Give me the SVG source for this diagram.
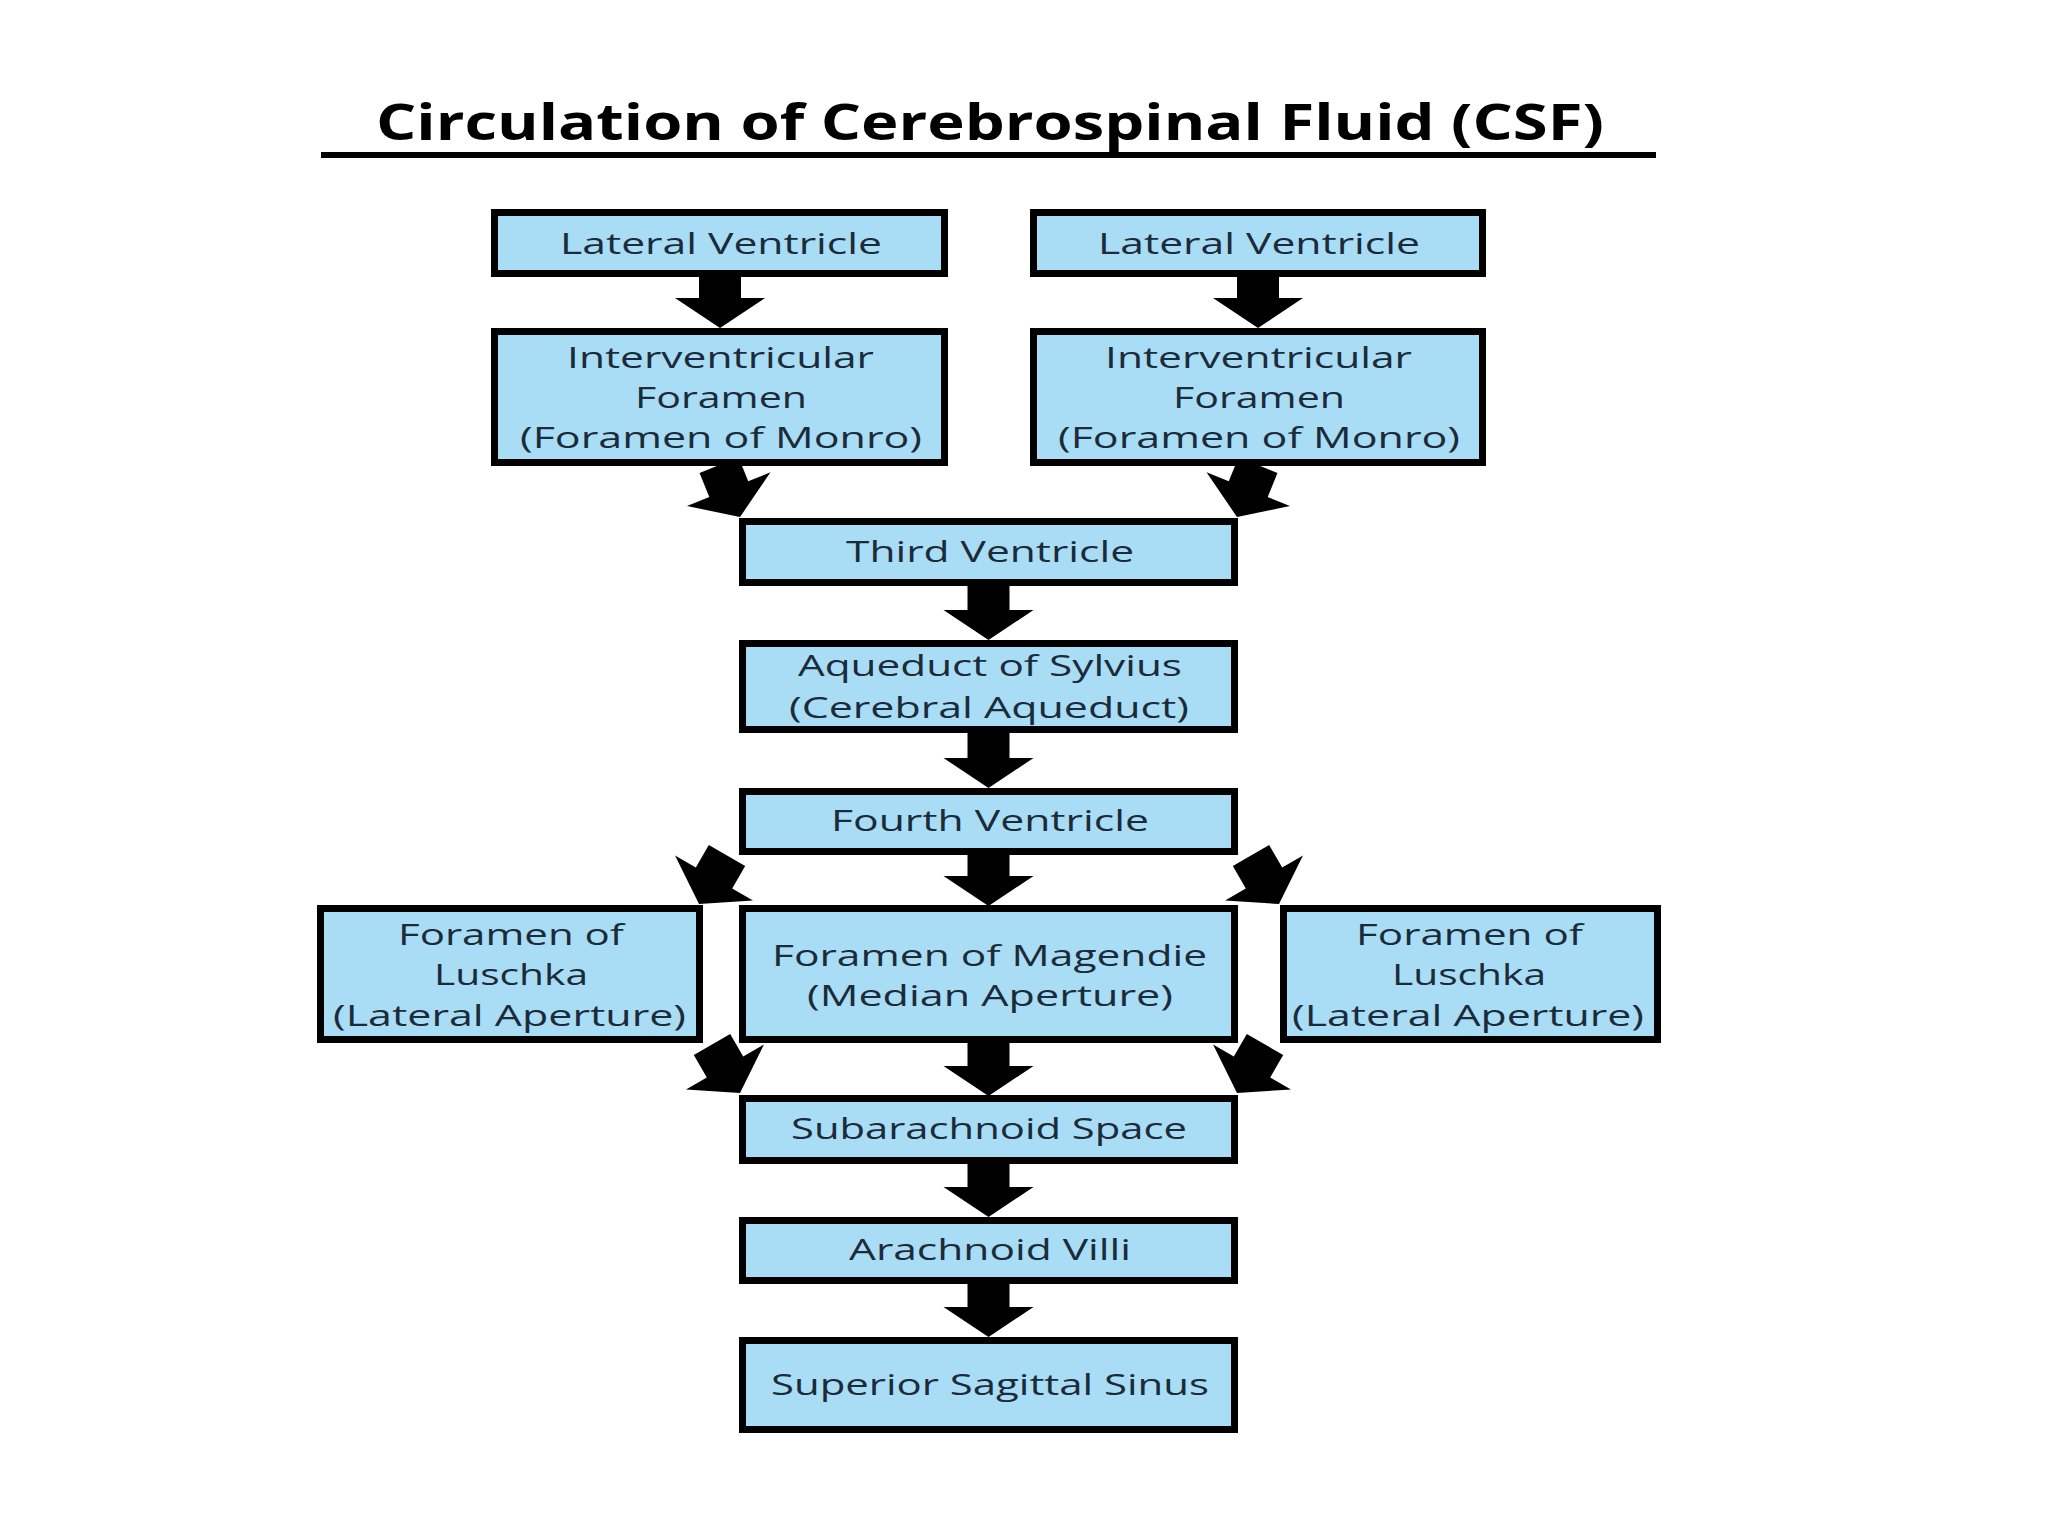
<svg xmlns="http://www.w3.org/2000/svg" width="2048" height="1536" viewBox="0 0 2048 1536">
<defs>
<style>
.box{fill:#a9ddf6;stroke:#000;stroke-width:7}
.t{font-family:"Open Sans","Liberation Sans",sans-serif;font-size:30px;fill:#1c2b39;text-anchor:middle}
.title{font-family:"Open Sans","Liberation Sans",sans-serif;font-size:51px;font-weight:bold;fill:#000;text-anchor:middle}
.arr{fill:#000}
</style>
<path id="av" d="M-21,-56 H21 V-30 H45 L0,0 L-45,-30 H-21 Z"/>
</defs>
<rect width="2048" height="1536" fill="#fff"/>
<g id="title">
<text class="title" x="990" y="140" textLength="1228" lengthAdjust="spacingAndGlyphs">Circulation of Cerebrospinal Fluid (CSF)</text>
<rect x="321" y="152" width="1335" height="6" fill="#000"/>
</g>
<g id="connectors" class="arr">
<use href="#av" transform="translate(720,328)"/>
<use href="#av" transform="translate(1258,328)"/>
<use href="#av" transform="translate(740,517) rotate(-22)"/>
<use href="#av" transform="translate(1237,517) rotate(22)"/>
<use href="#av" transform="translate(988.5,640)"/>
<use href="#av" transform="translate(988.5,788)"/>
<use href="#av" transform="translate(699,904) rotate(30)"/>
<use href="#av" transform="translate(988.5,906)"/>
<use href="#av" transform="translate(1279,904) rotate(-30)"/>
<use href="#av" transform="translate(740,1093) rotate(-30)"/>
<use href="#av" transform="translate(988.5,1096)"/>
<use href="#av" transform="translate(1237,1093) rotate(30)"/>
<use href="#av" transform="translate(988.5,1217)"/>
<use href="#av" transform="translate(988.5,1337)"/>
</g>
<g id="lv-left">
<rect class="box" x="494.5" y="212.5" width="450" height="61"/>
<text class="t" x="721" y="254" textLength="322" lengthAdjust="spacingAndGlyphs">Lateral Ventricle</text>
</g>
<g id="lv-right">
<rect class="box" x="1033.5" y="212.5" width="449" height="61"/>
<text class="t" x="1259" y="254" textLength="322" lengthAdjust="spacingAndGlyphs">Lateral Ventricle</text>
</g>
<g id="if-left">
<rect class="box" x="494.5" y="331.5" width="450" height="131"/>
<text class="t" x="720.5" y="368" textLength="307" lengthAdjust="spacingAndGlyphs">Interventricular</text>
<text class="t" x="721" y="408" textLength="172" lengthAdjust="spacingAndGlyphs">Foramen</text>
<text class="t" x="721" y="448" textLength="402" lengthAdjust="spacingAndGlyphs">(Foramen of Monro)</text>
</g>
<g id="if-right">
<rect class="box" x="1033.5" y="331.5" width="449" height="131"/>
<text class="t" x="1258.5" y="368" textLength="307" lengthAdjust="spacingAndGlyphs">Interventricular</text>
<text class="t" x="1259" y="408" textLength="172" lengthAdjust="spacingAndGlyphs">Foramen</text>
<text class="t" x="1259" y="448" textLength="402" lengthAdjust="spacingAndGlyphs">(Foramen of Monro)</text>
</g>
<g id="third">
<rect class="box" x="742.5" y="521.5" width="492" height="61"/>
<text class="t" x="990" y="562" textLength="288" lengthAdjust="spacingAndGlyphs">Third Ventricle</text>
</g>
<g id="aqueduct">
<rect class="box" x="742.5" y="643.5" width="492" height="86"/>
<text class="t" x="990" y="676" textLength="384" lengthAdjust="spacingAndGlyphs">Aqueduct of Sylvius</text>
<text class="t" x="989" y="718" textLength="400" lengthAdjust="spacingAndGlyphs">(Cerebral Aqueduct)</text>
</g>
<g id="fourth">
<rect class="box" x="742.5" y="791.5" width="492" height="60"/>
<text class="t" x="990" y="831" textLength="318" lengthAdjust="spacingAndGlyphs">Fourth Ventricle</text>
</g>
<g id="luschka-left">
<rect class="box" x="320.5" y="908.5" width="379" height="131"/>
<text class="t" x="511" y="945" textLength="226" lengthAdjust="spacingAndGlyphs">Foramen of</text>
<text class="t" x="511" y="985" textLength="154" lengthAdjust="spacingAndGlyphs">Luschka</text>
<text class="t" x="509.5" y="1026" textLength="353" lengthAdjust="spacingAndGlyphs">(Lateral Aperture)</text>
</g>
<g id="magendie">
<rect class="box" x="742.5" y="908.5" width="492" height="131"/>
<text class="t" x="989.5" y="966" textLength="435" lengthAdjust="spacingAndGlyphs">Foramen of Magendie</text>
<text class="t" x="990" y="1006" textLength="366" lengthAdjust="spacingAndGlyphs">(Median Aperture)</text>
</g>
<g id="luschka-right">
<rect class="box" x="1283.5" y="908.5" width="374" height="131"/>
<text class="t" x="1469.5" y="945" textLength="227" lengthAdjust="spacingAndGlyphs">Foramen of</text>
<text class="t" x="1469" y="985" textLength="154" lengthAdjust="spacingAndGlyphs">Luschka</text>
<text class="t" x="1468" y="1026" textLength="352" lengthAdjust="spacingAndGlyphs">(Lateral Aperture)</text>
</g>
<g id="subarachnoid">
<rect class="box" x="742.5" y="1098.5" width="492" height="62"/>
<text class="t" x="989" y="1139" textLength="396" lengthAdjust="spacingAndGlyphs">Subarachnoid Space</text>
</g>
<g id="arachnoid">
<rect class="box" x="742.5" y="1220.5" width="492" height="60"/>
<text class="t" x="990" y="1260" textLength="282" lengthAdjust="spacingAndGlyphs">Arachnoid Villi</text>
</g>
<g id="superior">
<rect class="box" x="742.5" y="1340.5" width="492" height="89"/>
<text class="t" x="990" y="1395" textLength="438" lengthAdjust="spacingAndGlyphs">Superior Sagittal Sinus</text>
</g>
</svg>
